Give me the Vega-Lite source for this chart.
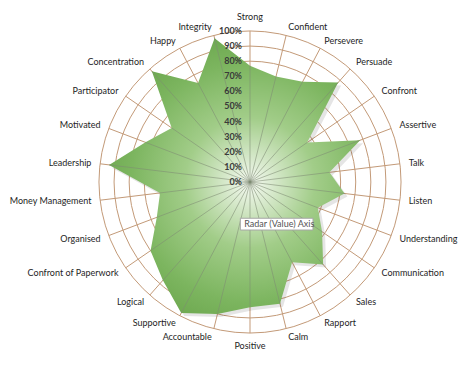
{
  "$schema": "https://vega.github.io/schema/vega-lite/v6.json",
  "width": 364,
  "height": 364,
  "autosize": {"type": "none"},
  "padding": {"left": 68, "top": 0, "right": 42, "bottom": 2},
  "background": "white",
  "config": {"view": {"stroke": null}},
  "datasets": {
    "cats": [
      {"cat": "Strong", "i": 0, "v": 0.77},
      {"cat": "Confident", "i": 1, "v": 0.72},
      {"cat": "Persevere", "i": 2, "v": 0.75},
      {"cat": "Persuade", "i": 3, "v": 0.88},
      {"cat": "Confront", "i": 4, "v": 0.46},
      {"cat": "Assertive", "i": 5, "v": 0.78},
      {"cat": "Talk", "i": 6, "v": 0.53},
      {"cat": "Listen", "i": 7, "v": 0.63},
      {"cat": "Understanding", "i": 8, "v": 0.48},
      {"cat": "Communication", "i": 9, "v": 0.58},
      {"cat": "Sales", "i": 10, "v": 0.73},
      {"cat": "Rapport", "i": 11, "v": 0.60},
      {"cat": "Calm", "i": 12, "v": 0.83},
      {"cat": "Positive", "i": 13, "v": 0.83},
      {"cat": "Accountable", "i": 14, "v": 0.90},
      {"cat": "Supportive", "i": 15, "v": 0.98},
      {"cat": "Logical", "i": 16, "v": 0.87},
      {"cat": "Confront of Paperwork", "i": 17, "v": 0.80},
      {"cat": "Organised", "i": 18, "v": 0.66},
      {"cat": "Money Management", "i": 19, "v": 0.60},
      {"cat": "Leadership", "i": 20, "v": 0.94},
      {"cat": "Motivated", "i": 21, "v": 0.74},
      {"cat": "Participator", "i": 22, "v": 0.63},
      {"cat": "Concentration", "i": 23, "v": 0.98},
      {"cat": "Happy", "i": 24, "v": 0.74},
      {"cat": "Integrity", "i": 25, "v": 0.98}
    ],
    "levels": [
      {"p": 0}, {"p": 0.1}, {"p": 0.2}, {"p": 0.3}, {"p": 0.4}, {"p": 0.5},
      {"p": 0.6}, {"p": 0.7}, {"p": 0.8}, {"p": 0.9}, {"p": 1.0}
    ]
  },
  "layer": [
    {
      "data": {"name": "levels"},
      "transform": [{"filter": "datum.p > 0"}],
      "mark": {"type": "point", "shape": "circle", "filled": false, "fill": null, "stroke": "#c39a78", "strokeWidth": 1, "opacity": 1},
      "encoding": {
        "x": {"datum": 0, "type": "quantitative", "scale": {"domain": [-1.205, 1.205]}, "axis": null},
        "y": {"datum": 0, "type": "quantitative", "scale": {"domain": [-1.205, 1.205]}, "axis": null},
        "size": {"field": "p", "type": "quantitative", "legend": null, "scale": {"type": "pow", "exponent": 2, "domain": [0, 1.205], "range": [0, 132496], "zero": true}}
      }
    },
    {
      "data": {"name": "cats"},
      "transform": [
        {"calculate": "datum.i * 2 * PI / 26", "as": "a"},
        {"calculate": "sin(datum.a)", "as": "ox"},
        {"calculate": "cos(datum.a)", "as": "oy"}
      ],
      "mark": {"type": "rule", "color": "#c39a78", "strokeWidth": 1},
      "encoding": {
        "x": {"field": "ox", "type": "quantitative", "scale": {"domain": [-1.205, 1.205]}, "axis": null},
        "y": {"field": "oy", "type": "quantitative", "scale": {"domain": [-1.205, 1.205]}, "axis": null},
        "x2": {"datum": 0},
        "y2": {"datum": 0}
      }
    },
    {
      "data": {"name": "cats"},
      "transform": [
        {"calculate": "datum.i * 2 * PI / 26", "as": "a"},
        {"calculate": "datum.v * sin(datum.a)", "as": "px"},
        {"calculate": "datum.v * cos(datum.a)", "as": "py"}
      ],
      "mark": {"type": "line", "interpolate": "linear-closed", "fill": "#000000", "fillOpacity": 0.1, "stroke": null, "xOffset": 3, "yOffset": 3},
      "encoding": {
        "x": {"field": "px", "type": "quantitative", "scale": {"domain": [-1.205, 1.205]}, "axis": null},
        "y": {"field": "py", "type": "quantitative", "scale": {"domain": [-1.205, 1.205]}, "axis": null},
        "order": {"field": "i", "type": "quantitative"}
      }
    },
    {
      "data": {"name": "cats"},
      "transform": [
        {"calculate": "datum.i * 2 * PI / 26", "as": "a"},
        {"calculate": "datum.v * sin(datum.a)", "as": "px"},
        {"calculate": "datum.v * cos(datum.a)", "as": "py"}
      ],
      "mark": {
        "type": "line",
        "interpolate": "linear-closed",
        "stroke": null,
        "fill": {
          "gradient": "radial",
          "x1": 0.555, "y1": 0.524, "r1": 0,
          "x2": 0.555, "y2": 0.524, "r2": 0.62,
          "stops": [
            {"offset": 0, "color": "#f6f9f3"},
            {"offset": 0.1, "color": "#e0eed7"},
            {"offset": 0.38, "color": "#a2cd89"},
            {"offset": 0.7, "color": "#7cb55f"},
            {"offset": 1, "color": "#64a046"}
          ]
        }
      },
      "encoding": {
        "x": {"field": "px", "type": "quantitative", "scale": {"domain": [-1.205, 1.205]}, "axis": null},
        "y": {"field": "py", "type": "quantitative", "scale": {"domain": [-1.205, 1.205]}, "axis": null},
        "order": {"field": "i", "type": "quantitative"}
      }
    },
    {
      "data": {"name": "cats"},
      "transform": [
        {"calculate": "datum.i * 2 * PI / 26", "as": "a"},
        {"calculate": "datum.v * sin(datum.a)", "as": "px"},
        {"calculate": "datum.v * cos(datum.a)", "as": "py"}
      ],
      "mark": {"type": "rule", "color": "#7d8a72", "strokeWidth": 1, "opacity": 0.55},
      "encoding": {
        "x": {"field": "px", "type": "quantitative", "scale": {"domain": [-1.205, 1.205]}, "axis": null},
        "y": {"field": "py", "type": "quantitative", "scale": {"domain": [-1.205, 1.205]}, "axis": null},
        "x2": {"datum": 0},
        "y2": {"datum": 0}
      }
    },
    {
      "data": {"name": "levels"},
      "mark": {"type": "text", "align": "right", "baseline": "middle", "dx": -8, "font": "Lato", "fontSize": 9, "fontWeight": "bold", "color": "#3a3a3a"},
      "encoding": {
        "x": {"datum": 0, "type": "quantitative", "scale": {"domain": [-1.205, 1.205]}, "axis": null},
        "y": {"field": "p", "type": "quantitative", "scale": {"domain": [-1.205, 1.205]}, "axis": null},
        "text": {"field": "p", "type": "quantitative", "format": ".0%"}
      }
    },
    {
      "data": {"name": "cats"},
      "transform": [
        {"calculate": "datum.i * 2 * PI / 26", "as": "a"},
        {"calculate": "sin(datum.a)", "as": "s"},
        {"calculate": "1.058 * sin(datum.a)", "as": "lx"},
        {"calculate": "1.058 * cos(datum.a)", "as": "ly"}
      ],
      "mark": {
        "type": "text",
        "font": "Lato",
        "fontSize": 9,
        "color": "#1e1e1e",
        "align": {"expr": "datum.s > 0.05 ? 'left' : (datum.s < -0.05 ? 'right' : 'center')"},
        "baseline": {"expr": "datum.i == 0 ? 'bottom' : (datum.i == 13 ? 'top' : 'middle')"}
      },
      "encoding": {
        "x": {"field": "lx", "type": "quantitative", "scale": {"domain": [-1.205, 1.205]}, "axis": null},
        "y": {"field": "ly", "type": "quantitative", "scale": {"domain": [-1.205, 1.205]}, "axis": null},
        "text": {"field": "cat", "type": "nominal"}
      }
    },
    {
      "data": {"values": [{}]},
      "mark": {"type": "rect", "fill": "#ffffff", "stroke": "#a6a6a6", "strokeWidth": 1},
      "encoding": {
        "x": {"datum": -0.064, "type": "quantitative", "scale": {"domain": [-1.205, 1.205]}, "axis": null},
        "x2": {"datum": 0.417},
        "y": {"datum": -0.240, "type": "quantitative", "scale": {"domain": [-1.205, 1.205]}, "axis": null},
        "y2": {"datum": -0.318}
      }
    },
    {
      "data": {"values": [{}]},
      "mark": {"type": "text", "align": "left", "baseline": "middle", "font": "Lato", "fontSize": 9, "color": "#555555"},
      "encoding": {
        "x": {"datum": -0.038, "type": "quantitative", "scale": {"domain": [-1.205, 1.205]}, "axis": null},
        "y": {"datum": -0.279, "type": "quantitative", "scale": {"domain": [-1.205, 1.205]}, "axis": null},
        "text": {"value": "Radar (Value) Axis"}
      }
    }
  ]
}
